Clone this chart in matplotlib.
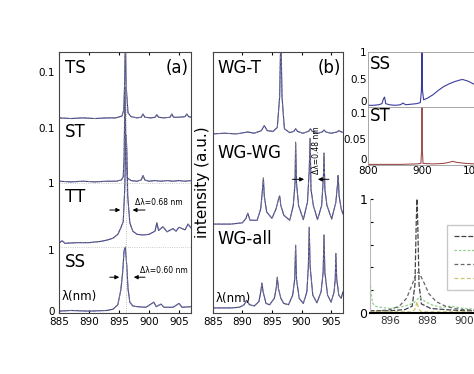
import matplotlib
matplotlib.use("Agg")
import matplotlib.pyplot as plt

# Panel (a) spectra, intensity
TS_X = [885, 887, 889, 891, 893, 894.5, 895.5, 895.8, 895.95, 896.05, 896.2, 896.5, 897, 898, 898.7,
        899.0, 899.3, 900.3, 901.0, 901.3, 901.6, 902.5, 903.5, 903.8, 904.1, 905, 906.0, 906.3, 906.6, 907]
TS_Y = [0.02, 0.01, 0.02, 0.01, 0.02, 0.02, 0.05, 0.15, 0.6, 1.3, 0.5, 0.1, 0.04, 0.02, 0.03,
        0.08, 0.03, 0.02, 0.03, 0.07, 0.03, 0.02, 0.03, 0.08, 0.03, 0.03, 0.04, 0.08, 0.04, 0.03]
ST_X = [885, 887, 889, 891, 893, 894.5, 895.4, 895.7, 895.85, 896.0, 896.15, 896.4, 897, 898.0, 898.7,
        899.0, 899.3, 900, 901, 902, 903, 904, 905, 906, 907]
ST_Y = [0.03, 0.02, 0.03, 0.02, 0.03, 0.03, 0.05, 0.1, 0.4, 1.5, 0.4, 0.08, 0.04, 0.03, 0.05,
        0.12, 0.05, 0.03, 0.04, 0.03, 0.04, 0.03, 0.04, 0.03, 0.04]
TT_X = [885, 885.5, 886, 888, 890, 892, 893, 894, 894.8, 895.3, 895.7, 895.95, 896.1, 896.2, 896.3, 896.45,
        896.8, 897.3, 898, 899, 900, 901.0, 901.3, 901.6, 902.3, 903, 904, 904.5, 905, 906, 906.5, 907]
TT_Y = [0.06, 0.1, 0.06, 0.07, 0.07, 0.09, 0.11, 0.14, 0.2, 0.3, 0.4, 0.9, 1.5, 1.75, 1.5, 0.8,
        0.38, 0.25, 0.2, 0.19, 0.2, 0.25, 0.38, 0.26, 0.32, 0.24, 0.29, 0.25, 0.31, 0.27, 0.36, 0.3]
SS_X = [885, 887, 890, 893, 894, 894.8, 895.3, 895.6, 895.85, 896.05, 896.3, 896.5, 896.8, 897.3, 898,
        899.5, 900.8, 901.2, 902, 902.5, 904, 905, 905.5, 907]
SS_Y = [0.0, 0.01, 0.0, 0.01, 0.03, 0.1, 0.33, 0.6, 0.95, 1.0, 0.7, 0.35, 0.14, 0.08, 0.07,
        0.06, 0.14, 0.07, 0.11, 0.06, 0.06, 0.12, 0.06, 0.07]
ROWS_A = ["SS", "TT", "ST", "TS"]
TICKS_A = ["0", "1", "1", "0.1", "0.1"]

# Panel (b) spectra
WGT_X = [885, 887, 889, 890.9, 892, 893.2, 893.7, 894.2, 895.2, 895.9, 896.3, 896.5, 896.7, 897.1, 898,
         898.7, 899.0, 899.3, 900.2, 901.2, 901.5, 901.8, 902.8, 903.5, 903.8, 904.1, 905, 906, 906.3, 907]
WGT_Y = [0.02, 0.03, 0.02, 0.05, 0.03, 0.07, 0.15, 0.07, 0.06, 0.12, 0.6, 1.6, 0.6, 0.1, 0.04,
         0.06, 0.1, 0.06, 0.03, 0.06, 0.1, 0.06, 0.03, 0.05, 0.08, 0.05, 0.03, 0.05, 0.07, 0.04]
WGWG_X = [885, 888, 890, 890.6, 890.9, 891.3, 892.5, 893.1, 893.4, 893.55, 893.7, 894.1, 895, 895.7,
          896.1, 896.3, 896.5, 897, 898, 898.6, 898.9, 899.0, 899.15, 899.5, 900.3, 901.0, 901.3,
          901.45, 901.6, 902.0, 902.7, 903.4, 903.7, 903.8, 903.95, 904.3, 905.1, 905.8, 906.1,
          906.2, 906.35, 906.7, 907]
WGWG_Y = [0.06, 0.06, 0.08, 0.15, 0.23, 0.12, 0.12, 0.3, 0.6, 0.78, 0.5, 0.25, 0.15, 0.3,
          0.45, 0.5, 0.35, 0.2, 0.12, 0.35, 0.7, 1.34, 0.7, 0.35, 0.13, 0.4, 0.9,
          1.4, 0.6, 0.35, 0.13, 0.35, 0.8, 1.17, 0.6, 0.35, 0.14, 0.4, 0.7,
          0.82, 0.5, 0.3, 0.22]
WGALL_X = [885, 888, 889.5, 890.3, 890.7, 891.2, 892, 892.8, 893.1, 893.3, 893.5, 894, 894.6, 895.4,
           895.75, 895.9, 896.1, 896.5, 897, 897.8, 898.5, 898.85, 899.0, 899.15, 899.6, 900.3, 900.9,
           901.15, 901.3, 901.45, 901.9, 902.6, 903.3, 903.65, 903.8, 903.95, 904.4, 905.0, 905.5,
           905.7, 905.8, 905.95, 906.3, 906.7, 907]
WGALL_Y = [0.05, 0.05, 0.06, 0.1, 0.17, 0.1, 0.08, 0.15, 0.3, 0.44, 0.3, 0.12, 0.1, 0.2,
           0.38, 0.53, 0.35, 0.2, 0.12, 0.1, 0.25, 0.5, 1.03, 0.5, 0.2, 0.12, 0.3,
           0.7, 1.31, 0.7, 0.25, 0.13, 0.3, 0.6, 1.19, 0.6, 0.25, 0.14, 0.3,
           0.5, 0.9, 0.5, 0.25, 0.2, 0.3]
ROWS_B = ["WG-all", "WG-WG", "WG-T"]

# Panel (c), broad range
C_SS_X = [800, 810, 820, 826, 829, 831, 833, 840, 850, 860, 865, 870, 880, 890, 897, 899, 900, 901, 903,
          910, 920, 930, 940, 950, 960, 970, 975, 985, 995, 1010, 1030, 1050, 1081]
C_SS_Y = [0.03, 0.03, 0.04, 0.06, 0.15, 0.18, 0.06, 0.04, 0.03, 0.04, 0.07, 0.04, 0.05, 0.06, 0.08, 0.3, 1.05, 0.3, 0.13,
          0.16, 0.22, 0.3, 0.37, 0.42, 0.46, 0.49, 0.5, 0.47, 0.42, 0.35, 0.25, 0.18, 0.1]
C_ST_X = [800, 830, 860, 890, 898, 899.5, 900, 900.5, 902, 920, 940, 950, 957, 964, 980, 1000, 1081]
C_ST_Y = [0.001, 0.001, 0.001, 0.002, 0.003, 0.03, 0.12, 0.03, 0.003, 0.002, 0.003, 0.005, 0.007, 0.005,
          0.003, 0.002, 0.002]

# Panel (c), zoom around the lasing line
SHARP_X = [894.9, 896, 896.8, 897.2, 897.35, 897.42, 897.46, 897.5, 897.57, 897.7, 898.2, 899, 900, 903]
SHARP_Y = [0.02, 0.02, 0.03, 0.06, 0.25, 0.8, 1.0, 0.8, 0.25, 0.08, 0.04, 0.03, 0.02, 0.02]
GREEN_X = [894.92, 894.97, 895.05, 895.2, 895.5, 896, 896.5, 897, 897.3, 897.6, 897.9, 898.3, 898.8, 899.3,
           900, 901, 903]
GREEN_Y = [0.28, 0.2, 0.09, 0.06, 0.05, 0.04, 0.05, 0.07, 0.09, 0.14, 0.1, 0.07, 0.05, 0.06, 0.04, 0.03, 0.03]
BROAD_X = [894.9, 895.5, 896, 896.5, 896.9, 897.2, 897.4, 897.55, 897.8, 898.1, 898.5, 899, 899.5, 900, 901, 903]
BROAD_Y = [0.01, 0.02, 0.03, 0.06, 0.13, 0.25, 0.34, 0.36, 0.28, 0.17, 0.1, 0.06, 0.04, 0.03, 0.02, 0.01]
SMALL_X = [894.9, 897.2, 897.38, 897.46, 897.54, 897.7, 903]
SMALL_Y = [0.01, 0.01, 0.04, 0.1, 0.04, 0.01, 0.01]
LEGEND_C = ["SS", "ST", "SS", "TT"]

BLUE = "#3b3b9e"
GRAY = "#7a7a7a"
TXT = 12
ARROW = dict(arrowstyle="-|>", lw=0.7, color="k", mutation_scale=6)


def spectrum(ax, x, y, off):
    yy = [v + off for v in y]
    ax.plot(x, yy, color=BLUE, lw=0.8)
    ax.plot(x, yy, color=GRAY, lw=0.7, ls=(0, (3, 2)))


def frame(ax):
    ax.set_xlim(885, 907)
    ax.set_ylim(-0.03, 4.05)
    ax.set_xticks([885, 890, 895, 900, 905])
    ax.tick_params(direction="in", top=True, labelsize=7.5, length=2.5, pad=3)
    for s in ax.spines.values():
        s.set_color("#444444")


fig = plt.figure(figsize=(4.74, 3.74), dpi=100)

# ---- (a)
ax = fig.add_axes([0.1245, 0.163, 0.2785, 0.698])
frame(ax)
for (x, y), off in zip([(SS_X, SS_Y), (TT_X, TT_Y), (ST_X, ST_Y), (TS_X, TS_Y)], [0, 1, 2, 3]):
    spectrum(ax, x, y, off)
ax.axhline(1, color="#bbbbbb", lw=0.6, ls=":")
ax.axhline(2, color="#bbbbbb", lw=0.6, ls=":")
ax.axvline(896.2, color="#aaaaaa", lw=0.6, ls=":")
ax.set_yticks([0, 0.95, 2.0, 2.86, 3.73])
ax.set_yticklabels(TICKS_A)
ax.tick_params(axis="y", length=0)
for name, yy in zip(ROWS_A, [0.76, 1.78, 2.8, 3.8]):
    ax.text(886.0, yy, name, fontsize=TXT, va="center")
ax.text(906.6, 3.8, "(a)", fontsize=TXT, va="center", ha="right")
ax.text(885.5, 0.12, "λ(nm)", fontsize=8.5, va="bottom")
# linewidth markers
ax.annotate("", xy=(895.67, 1.58), xytext=(893.0, 1.58), arrowprops=ARROW)
ax.annotate("", xy=(896.8, 1.58), xytext=(899.8, 1.58), arrowprops=ARROW)
ax.text(897.7, 1.66, "Δλ=0.68 nm", fontsize=5.5)
ax.annotate("", xy=(895.5, 0.53), xytext=(893.0, 0.53), arrowprops=ARROW)
ax.annotate("", xy=(897.0, 0.53), xytext=(899.8, 0.53), arrowprops=ARROW)
ax.text(898.5, 0.6, "Δλ=0.60 nm", fontsize=5.5)

# ---- (b)
ax = fig.add_axes([0.449, 0.163, 0.2745, 0.698])
frame(ax)
for (x, y), off in zip([(WGALL_X, WGALL_Y), (WGWG_X, WGWG_Y), (WGT_X, WGT_Y)], [0, 1.3, 2.75]):
    spectrum(ax, x, y, off)
ax.set_yticks([])
ax.set_ylabel("intensity (a.u.)", fontsize=11, labelpad=2)
for name, yy in zip(ROWS_B, [1.12, 2.47, 3.8]):
    ax.text(885.7, yy, name, fontsize=TXT, va="center")
ax.text(906.6, 3.8, "(b)", fontsize=TXT, va="center", ha="right")
ax.text(885.4, 0.1, "λ(nm)", fontsize=8.5, va="bottom")
ax.annotate("", xy=(900.9, 2.06), xytext=(898.0, 2.06), arrowprops=ARROW)
ax.annotate("", xy=(902.3, 2.06), xytext=(905.1, 2.06), arrowprops=ARROW)
ax.text(902.6, 2.52, "Δλ=0.48 nm", fontsize=5.5, rotation=90, ha="center", va="center")

# ---- (c) upper, wide range
ax1 = fig.add_axes([0.776, 0.714, 0.321, 0.147])
ax1.plot(C_SS_X, C_SS_Y, color=BLUE, lw=0.8)
ax1.set_xlim(800, 1081)
ax1.set_ylim(0, 1)
ax1.set_yticks([0, 0.5, 1])
ax1.set_yticklabels(["0", "0.5", "1"])
ax1.get_yticklabels()[0].set_va("bottom")
ax1.set_xticks([])
ax1.tick_params(labelsize=7.5, length=0, pad=1)
ax1.text(803, 0.78, "SS", fontsize=TXT, va="center")

ax2 = fig.add_axes([0.776, 0.559, 0.321, 0.155])
ax2.plot(C_ST_X, C_ST_Y, color="#a05050", lw=0.8)
ax2.set_xlim(800, 1081)
ax2.set_ylim(0, 0.112)
ax2.set_yticks([0, 0.05, 0.1])
ax2.set_yticklabels(["0", "0.05", "0.1"])
ax2.get_yticklabels()[0].set_va("bottom")
ax2.set_xticks([800, 900, 1000])
ax2.tick_params(labelsize=7.5, length=0, pad=1)
ax2.text(803, 0.094, "ST", fontsize=TXT, va="center")
for a in (ax1, ax2):
    for s in a.spines.values():
        s.set_color("#999999")
        s.set_linewidth(0.6)

# ---- (c) lower, zoom
ax3 = fig.add_axes([0.7806, 0.163, 0.3165, 0.305])
ax3.plot(SHARP_X, SHARP_Y, color="#444444", lw=0.9, ls=(0, (4, 1.5)), label=LEGEND_C[0])
ax3.plot(GREEN_X, GREEN_Y, color="#8fcf8f", lw=0.9, ls=(0, (2, 1.5)), label=LEGEND_C[1])
ax3.plot(BROAD_X, BROAD_Y, color="#666666", lw=0.9, ls=(0, (3, 2)), label=LEGEND_C[2])
ax3.plot(SMALL_X, SMALL_Y, color="#c8c86a", lw=0.9, ls=(0, (3, 2)), label=LEGEND_C[3])
ax3.set_xlim(894.92, 903.03)
ax3.set_ylim(0, 1)
ax3.set_xticks([896, 898, 900])
ax3.set_yticks([0, 0.2, 0.4, 0.6, 0.8, 1])
ax3.set_yticklabels(["0", "", "", "", "", "1"])
ax3.tick_params(axis="x", labelsize=7.5, length=0, pad=2, colors="#333333")
ax3.tick_params(axis="y", labelsize=9, length=2, direction="in", pad=2)
ax3.spines["top"].set_visible(False)
ax3.spines["left"].set_color("#bbbbbb")
ax3.spines["bottom"].set_linewidth(1.5)
ax3.legend(loc="upper left", bbox_to_anchor=(0.513, 0.77), borderaxespad=0, fontsize=8, frameon=True,
           edgecolor="#bbbbbb", fancybox=False, handlelength=3, labelspacing=0.35, borderpad=0.6)

fig.savefig("out.png", dpi=100)
